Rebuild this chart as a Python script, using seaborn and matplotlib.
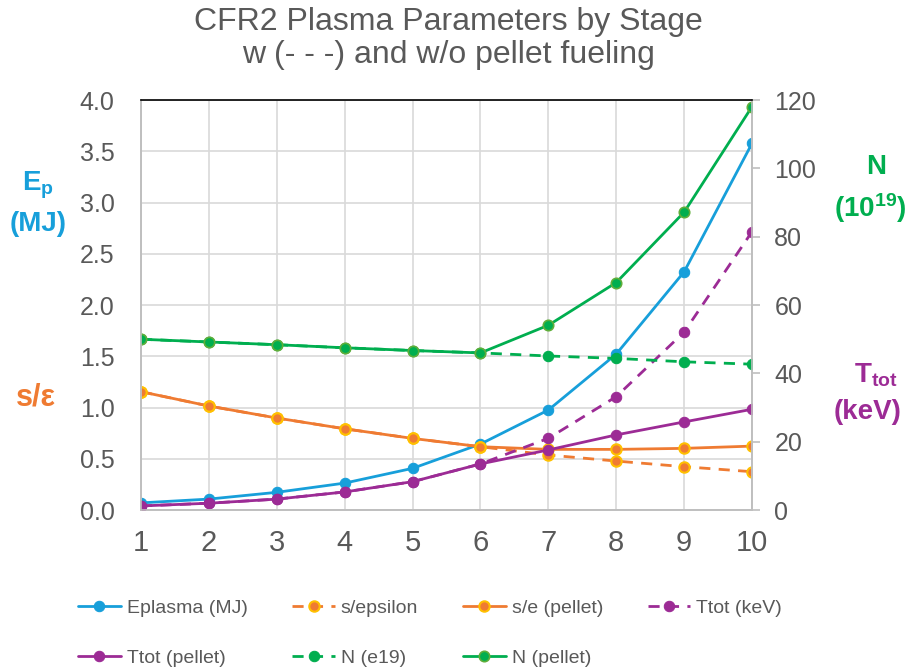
import numpy as np
import matplotlib
matplotlib.use("Agg")
import matplotlib.pyplot as plt
import seaborn as sns

# --- data ---
stage = [1, 2, 3, 4, 5, 6, 7, 8, 9, 10]
eplasma = [0.07, 0.107, 0.173, 0.263, 0.407, 0.644, 0.976, 1.522, 2.325, 3.578]          # MJ
s_eps = [1.155, 1.015, 0.898, 0.793, 0.699, 0.618, 0.537, 0.478, 0.423, 0.374]           # dashed
s_eps_pellet = [1.155, 1.015, 0.898, 0.793, 0.699, 0.618, 0.592, 0.592, 0.602, 0.624]    # solid
ttot = [1.2, 2.0, 3.2, 5.3, 8.3, 13.5, 21.0, 33.2, 52.1, 81.5]                           # keV dashed
ttot_pellet = [1.2, 2.0, 3.2, 5.3, 8.3, 13.5, 17.6, 22.0, 25.8, 29.5]                    # keV solid
n_e19 = [50.0, 49.2, 48.4, 47.5, 46.7, 46.0, 45.1, 44.4, 43.4, 42.7]                     # dashed
n_pellet = [50.0, 49.2, 48.4, 47.5, 46.7, 46.0, 54.1, 66.6, 87.2, 118.1]                 # solid

BLUE, ORANGE, PURPLE, GREEN = "#179fda", "#ef7b32", "#9c2b95", "#00ae4f"
GOLD, OLIVE = "#ffc000", "#5fae3a"
GRAY = "#595959"

sns.set_style("white")
plt.rcParams["font.family"] = ["Liberation Sans Narrow", "Liberation Sans", "DejaVu Sans"]
plt.rcParams["mathtext.fontset"] = "custom"
plt.rcParams["mathtext.rm"] = "Liberation Sans"
plt.rcParams["mathtext.bf"] = "Liberation Sans:bold"

fig = plt.figure(figsize=(9.11, 6.72), dpi=100)
ax = fig.add_axes([0.1548, 0.241, 0.6707, 0.610])
ax2 = ax.twinx()

lw, ms = 2.0, 7.5

# left axis series
sns.lineplot(x=stage, y=eplasma, ax=ax, color=BLUE, lw=lw, marker="o", ms=ms,
             mec=BLUE, label="Eplasma (MJ)")
sns.lineplot(x=stage, y=s_eps, ax=ax, color=ORANGE, lw=lw, ls=(0, (4, 3)), marker="o", ms=ms,
             mec=GOLD, mew=1.5, label="s/epsilon")
sns.lineplot(x=stage, y=s_eps_pellet, ax=ax, color=ORANGE, lw=lw, marker="o", ms=ms,
             mec=GOLD, mew=1.5, label="s/e (pellet)")

# right axis series
sns.lineplot(x=stage, y=ttot, ax=ax2, color=PURPLE, lw=lw, ls=(0, (4, 3)), marker="o", ms=ms,
             mec=PURPLE, label="Ttot (keV)")
sns.lineplot(x=stage, y=ttot_pellet, ax=ax2, color=PURPLE, lw=lw, marker="o", ms=ms,
             mec=PURPLE, label="Ttot (pellet)")
sns.lineplot(x=stage, y=n_e19, ax=ax2, color=GREEN, lw=lw, ls=(0, (4, 3)), marker="o", ms=ms,
             mec=GREEN, label="N (e19)")
sns.lineplot(x=stage, y=n_pellet, ax=ax2, color=GREEN, lw=lw, marker="o", ms=ms,
             mec=OLIVE, mew=1.2, label="N (pellet)")

h1, l1 = ax.get_legend_handles_labels()
h2, l2 = ax2.get_legend_handles_labels()
for a in (ax, ax2):
    if a.get_legend():
        a.get_legend().remove()

# axes styling
ax.set_xlim(1, 10)
ax.set_ylim(0, 4.0)
ax2.set_ylim(0, 120)
ax.set_xticks(stage)
ax.set_yticks(np.arange(0, 4.01, 0.5))
ax.set_yticklabels([f"{v:.1f}" for v in np.arange(0, 4.01, 0.5)])
ax2.set_yticks(np.arange(0, 121, 20))
ax.grid(True, color="#d9d9d9", lw=1.2)
ax.set_axisbelow(True)
for a in (ax, ax2):
    for s in a.spines.values():
        s.set_color("#bfbfbf")
        s.set_linewidth(1.2)
ax2.spines["top"].set_color("black")
ax2.spines["top"].set_linewidth(1.2)
ax.spines["top"].set_visible(False)
ax.tick_params(axis="y", length=0, pad=19, labelsize=18, labelcolor=GRAY)
ax.tick_params(axis="x", length=0, pad=14, labelsize=21, labelcolor=GRAY)
ax2.tick_params(axis="y", length=6, color="#bfbfbf", width=1.2, pad=10, labelsize=18, labelcolor=GRAY)
for lab in ax.get_yticklabels() + ax2.get_yticklabels():
    lab.set_family(["Liberation Sans", "DejaVu Sans"])
ax.set_xlabel("")
ax.set_ylabel("")
ax2.set_ylabel("")

# title
fig.text(0.492, 0.99, "CFR2 Plasma Parameters by Stage\nw (- - -) and w/o pellet fueling",
         ha="center", va="top", fontsize=23, color=GRAY, linespacing=1.15)

# coloured axis captions
cap = dict(ha="center", va="center", fontsize=20, fontweight="bold",
           family=["Liberation Sans", "DejaVu Sans"])
fig.text(38 / 911, 1 - 185 / 672, r"$\mathbf{E_p}$", color=BLUE, **cap)
fig.text(38 / 911, 1 - 224 / 672, "(MJ)", color=BLUE, **cap)
fig.text(36 / 911, 1 - 397 / 672, "s/ε", color=ORANGE, fontsize=22, ha="center", va="center",
         fontweight="bold", family=["Liberation Sans", "DejaVu Sans"])
fig.text(876 / 911, 1 - 167 / 672, "N", color=GREEN, **cap)
fig.text(870 / 911, 1 - 208 / 672, r"$\mathbf{(10^{19})}$", color=GREEN, **cap)
fig.text(876 / 911, 1 - 375 / 672, r"$\mathbf{T_{tot}}$", color=PURPLE, **cap)
fig.text(868 / 911, 1 - 412 / 672, "(keV)", color=PURPLE, **cap)

# legend: matplotlib fills columns first, so interleave to get row-wise order
handles = h1 + h2
labels = l1 + l2
order = [0, 4, 1, 5, 2, 6, 3]
fig.legend([handles[i] for i in order], [labels[i] for i in order], ncol=4,
           loc="center", bbox_to_anchor=(0.472, 0.058), frameon=False, fontsize=14,
           labelcolor=GRAY, handlelength=2.2, handletextpad=0.3, columnspacing=2.3,
           labelspacing=1.65)

fig.savefig("out.png", dpi=100)
